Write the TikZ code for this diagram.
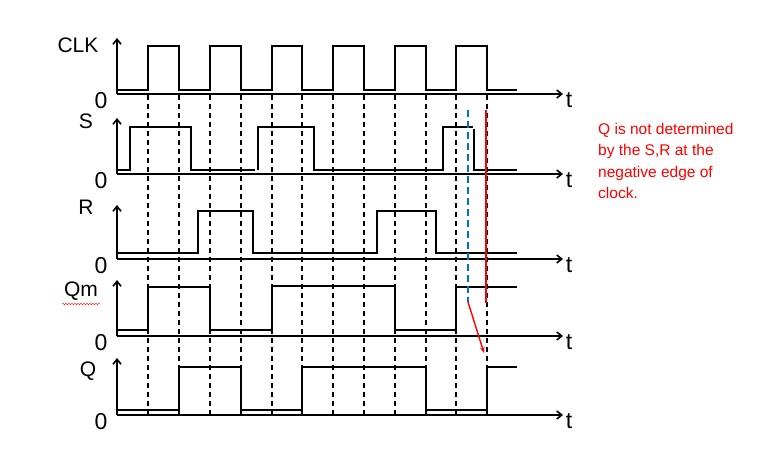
\documentclass[tikz,border=0pt]{standalone}
\usepackage{fontspec}
\setmainfont{Liberation Sans}
\usetikzlibrary{arrows.meta, positioning, decorations.pathmorphing}

\begin{document}
\begin{tikzpicture}[x=1pt, y=-1pt,
    sig/.style={line width=1.6pt},
    ax/.style={line width=1.6pt, -{Straight Barb[length=5pt, width=8pt]}},
    grid/.style={line width=1.2pt, dash pattern=on 5pt off 4pt},
    lbl/.style={font=\fontsize{21}{21}\selectfont, inner sep=0pt},
    tlbl/.style={font=\fontsize{23}{23}\selectfont, inner sep=0pt}]

    \useasboundingbox (0,0) rectangle (778,454);

    % dashed clock edges
    \foreach \x in {148,179,210,241,272,302,333,364,395,426,456,487}
        \draw[grid] (\x,95) -- (\x,416);

    % axes: name/axis y/top/label/zero
    \foreach \n/\y/\top/\txt/\lx/\ly in {clk/94/38/CLK/78/45, s/174/118/S/86/121, r/259/205/R/86/207, qm/336/280/Qm/81/291, q/415/358/Q/88/371} {
        \draw[ax] (117,\y) -- (117,\top);
        \draw[ax] (117,\y) -- (563,\y);
        \node[tlbl] (t\n) at (569,\y+6) {t};
        \node[tlbl] (z\n) at (101,\y+7) {0};
        \node[lbl] (l\n) at (\lx,\ly) {\txt};
    }
    \draw[red, decorate, decoration={snake, amplitude=0.8pt, segment length=3pt}] (62,304) -- (100,304);

    % waveforms
    \draw[sig] (117,90) -- (148,90) -- (148,46) -- (179,46) -- (179,90) -- (210,90) -- (210,46) -- (241,46) -- (241,90)
        -- (272,90) -- (272,46) -- (302,46) -- (302,90) -- (333,90) -- (333,46) -- (364,46) -- (364,90)
        -- (395,90) -- (395,46) -- (426,46) -- (426,90) -- (456,90) -- (456,46) -- (487,46) -- (487,90) -- (517,90);
    \draw[sig] (117,170) -- (130,170) -- (130,127) -- (191,127) -- (191,170) -- (255,170);
    \draw[sig] (258,170) -- (258,127) -- (314,127) -- (314,170) -- (443,170) -- (443,127) -- (473,127);
    \draw[sig] (474,129) -- (474,170) -- (517,170);
    \draw[sig] (117,253) -- (198,253) -- (198,211) -- (253,211) -- (253,253) -- (377,253) -- (377,211) -- (436,211) -- (436,253) -- (517,253);
    \draw[sig] (117,330) -- (148,330) -- (148,287) -- (210,287) -- (210,330) -- (272,330) -- (272,286) -- (395,286) -- (395,330) -- (456,330) -- (456,287) -- (517,287);
    \draw[sig] (117,410) -- (179,410) -- (179,367) -- (241,367) -- (241,410) -- (302,410) -- (302,367) -- (426,367) -- (426,410) -- (487,410) -- (487,367) -- (517,367);

    % annotation
    \coordinate (bt) at (468,110);
    \coordinate (bb) at (468,302);
    \coordinate (rt) at (486,110);
    \coordinate (rb) at (486,303);
    \coordinate (ah) at (484,353);
    \draw[line width=1.2pt, color={rgb,255:red,0;green,112;blue,192}, dash pattern=on 7pt off 4pt] (bt) -- (bb);
    \draw[red, line width=1.6pt] (rt) -- (rb);
    \draw[red, line width=1.4pt, -{Stealth[length=6pt]}] (bb) -- (ah);
    \node[red, align=left, anchor=north west, inner sep=0pt, font=\fontsize{15.5}{21.5}\selectfont] (note) at (598,123)
        {Q is not determined\\by the S,R at the\\negative edge of\\clock.};
\end{tikzpicture}
\end{document}
